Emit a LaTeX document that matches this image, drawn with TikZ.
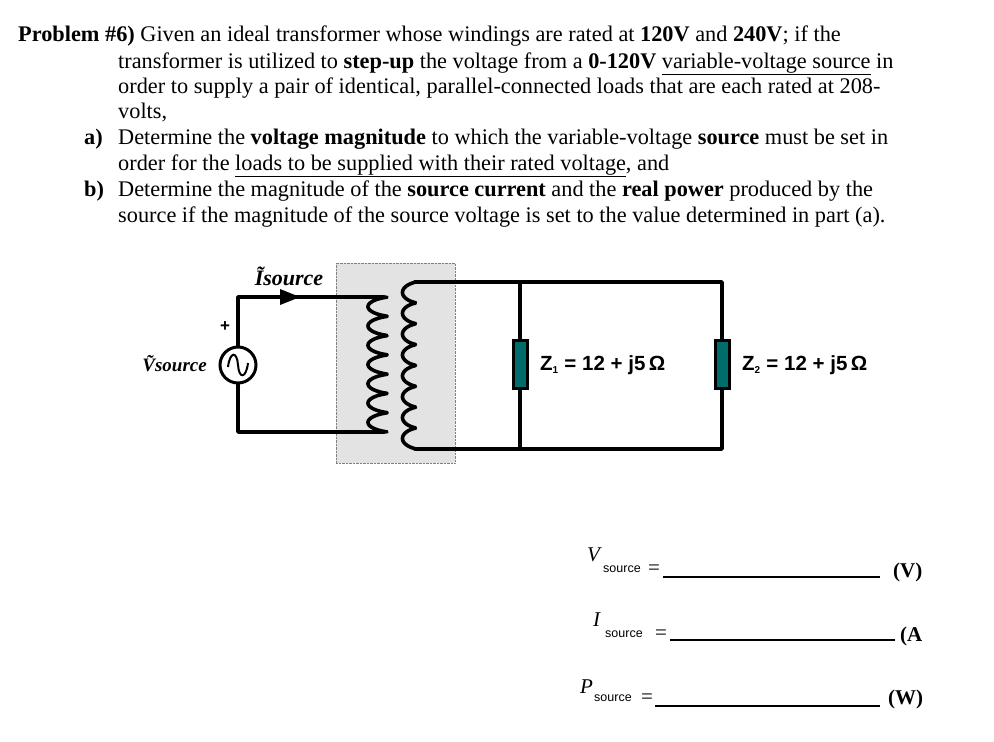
\documentclass[tikz,border=0pt]{standalone}
\usepackage{fontspec}
\setmainfont{Liberation Serif}
\setsansfont{Liberation Sans}
\begin{document}
\begin{tikzpicture}[x=1pt,y=-1pt,
  txt/.style={anchor=base west,inner sep=0pt,font=\fontsize{22.3}{24}\selectfont},
  wire/.style={line width=3.6pt,line cap=round,line join=round},
  zlab/.style={anchor=west,inner sep=0pt,font=\sffamily\bfseries\fontsize{20.5}{22}\selectfont},
  load/.style={draw,line width=3pt,fill=teal!85!black,minimum width=14pt,minimum height=48pt,inner sep=0pt},
  ans/.style={inner sep=0pt,font=\fontsize{21}{23}\selectfont},
  sub/.style={inner sep=0pt,anchor=base west,font=\sffamily\fontsize{12.5}{14}\selectfont},
  ansline/.style={line width=1.5pt}]
\useasboundingbox (0,0) rectangle (994,742);
% text
\node[txt] (l1) at (18,41) {\textbf{Problem \#6)} Given an ideal transformer whose windings are rated at \textbf{120V} and \textbf{240V}; if the};
\node[txt] (l2) at (118,68) {transformer is utilized to \textbf{step-up} the voltage from a \textbf{0-120V} \underline{variable-voltage source} in};
\node[txt] (l3) at (118,93) {order to supply a pair of identical, parallel-connected loads that are each rated at 208-};
\node[txt] (l4) at (118,118) {volts,};
\node[txt] (la) at (84,144) {\textbf{a)}};
\node[txt] (l5) at (118,144) {Determine the \textbf{voltage magnitude} to which the variable-voltage \textbf{source} must be set in};
\node[txt] (l6) at (118,170) {order for the \underline{loads to be supplied with their rated voltage}, and};
\node[txt] (lb) at (84,196) {\textbf{b)}};
\node[txt] (l7) at (118,196) {Determine the magnitude of the \textbf{source current} and the \textbf{real power} produced by the};
\node[txt] (l8) at (118,222) {source if the magnitude of the source voltage is set to the value determined in part (a).};
% transformer box
\node[draw=gray,densely dotted,fill=gray!22,minimum width=119pt,minimum height=200pt,inner sep=0pt] (box) at (395.5,363) {};
% source
\node[draw,circle,line width=3pt,minimum size=36pt,inner sep=0pt] (src) at (238,365) {};
\draw[line width=2pt] (228,367) .. controls (230,351) and (237,351) .. (238,365) .. controls (239,379) and (246,379) .. (248,363);
\coordinate (tl) at (238,297);
\coordinate (bl) at (238,432);
\coordinate (pt) at (384,297);
\coordinate (pb) at (384,432);
\draw[wire] (src.north) -- (tl) -- (pt);
\draw[wire] (src.south) -- (bl) -- (pb);
\draw[wire] plot[domain=0:2520,samples=300,smooth] ({377.5+9.5*cos(\x)},{297+3.07*rad(\x)-2.6*sin(\x)});
\draw[wire] plot[domain=0:2880,samples=320,smooth] ({409+6.5*cos(\x)},{282+3.32*rad(\x)-2.8*sin(\x)});
\fill (300,297) -- (280,289) -- (280,305) -- cycle;
\node[inner sep=0pt,font=\bfseries\itshape\fontsize{22}{24}\selectfont] (ilab) at (289,276) {\~{I}source};
\node[inner sep=0pt,font=\sffamily\bfseries\fontsize{17}{18}\selectfont] (plus) at (225,327) {+};
\node[inner sep=0pt,anchor=east,font=\bfseries\itshape\fontsize{19}{20}\selectfont] (vlab) at (207,364) {\~{V}source};
% secondary and loads
\coordinate (st) at (415,282);
\coordinate (sb) at (415,449);
\coordinate (t1) at (520,282);
\coordinate (b1) at (520,449);
\coordinate (t2) at (722,282);
\coordinate (b2) at (722,449);
\node[load] (z1) at (520,364) {};
\node[load] (z2) at (722,364) {};
\draw[wire] (st) -- (t2) -- (z2.north);
\draw[wire] (z2.south) -- (b2) -- (sb);
\draw[wire] (t1) -- (z1.north);
\draw[wire] (z1.south) -- (b1);
\node[zlab] (z1l) at (540,365) {Z\textsubscript{\fontsize{10}{11}\selectfont 1} = 12 + j5\,Ω};
\node[zlab] (z2l) at (742,365) {Z\textsubscript{\fontsize{10}{11}\selectfont 2} = 12 + j5\,Ω};
% answers
\node[ans,anchor=base west] (V) at (587,561) {\textit{V}};
\node[sub] (Vs) at (603,572) {source};
\node[ans,anchor=base west] (Veq) at (648,574) {=};
\coordinate (va) at (663,577); \coordinate (vb) at (880,577);
\draw[ansline] (va) -- (vb);
\node[ans,anchor=base west] (Vu) at (893,577) {\textbf{(V)}};
\node[ans,anchor=base west] (I) at (593,626) {\textit{I}};
\node[sub] (Is) at (605,637) {source};
\node[ans,anchor=base west] (Ieq) at (655,639) {=};
\coordinate (ia) at (670,640); \coordinate (ib) at (895,640);
\draw[ansline] (ia) -- (ib);
\node[ans,anchor=base west] (Iu) at (900,641) {\textbf{(A}};
\node[ans,anchor=base west] (P) at (580,693) {\textit{P}};
\node[sub] (Ps) at (594,701) {source};
\node[ans,anchor=base west] (Peq) at (641,703) {=};
\coordinate (pa) at (655,706); \coordinate (pb2) at (880,706);
\draw[ansline] (pa) -- (pb2);
\node[ans,anchor=base west] (Pu) at (888,704) {\textbf{(W)}};
\end{tikzpicture}
\end{document}
